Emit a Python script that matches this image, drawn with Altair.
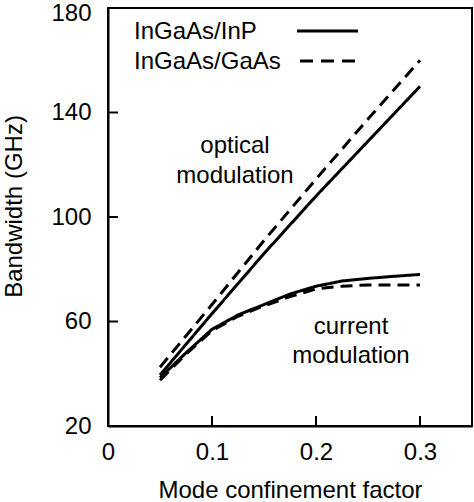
import altair as alt
import pandas as pd

# ---- data ----
gamma = [0.05, 0.10, 0.15, 0.20, 0.25, 0.30]
opt_inp = [39.5, 63, 86, 108, 129, 150]
opt_gaas = [42.5, 66.5, 91, 114.5, 137.5, 160]

gamma_c = [0.05, 0.075, 0.10, 0.125, 0.15, 0.175, 0.20, 0.225, 0.25, 0.275, 0.30]
cur_inp = [38.5, 48, 57, 62.5, 66.5, 70.5, 73.5, 75.5, 76.5, 77.3, 78]
cur_gaas = [37.5, 47.5, 56.5, 62, 66, 69.5, 72.5, 73.5, 74, 74, 74]

x_ticks = [0, 0.1, 0.2, 0.3]
y_ticks = [20, 60, 100, 140, 180]
inner_x_ticks = [0.1, 0.2, 0.3]
inner_y_ticks = [60, 100, 140]

legend_labels = ["InGaAs/InP", "InGaAs/GaAs"]

rows = []
for g, v in zip(gamma, opt_inp):
    rows.append({"x": g, "y": v, "mat": "InGaAs/InP", "mode": "optical"})
for g, v in zip(gamma, opt_gaas):
    rows.append({"x": g, "y": v, "mat": "InGaAs/GaAs", "mode": "optical"})
for g, v in zip(gamma_c, cur_inp):
    rows.append({"x": g, "y": v, "mat": "InGaAs/InP", "mode": "current"})
for g, v in zip(gamma_c, cur_gaas):
    rows.append({"x": g, "y": v, "mat": "InGaAs/GaAs", "mode": "current"})
df = pd.DataFrame(rows)

FONT = "Liberation Sans"
FS = 24

xscale = alt.Scale(domain=[0, 0.35], nice=False, zero=False)
yscale = alt.Scale(domain=[20, 180], nice=False, zero=False)

xaxis = alt.Axis(values=x_ticks, ticks=False, grid=False, title="Mode confinement factor",
                 labelFontSize=FS, titleFontSize=FS, labelFont=FONT, titleFont=FONT,
                 labelColor="black", titleColor="black", titleFontWeight="normal",
                 labelPadding=14, titlePadding=14, domainColor="black", domainWidth=2,
                 labelFlush=False,
                 labelExpr="datum.value == 0 ? '0' : format(datum.value, '.1f')")
yaxis = alt.Axis(values=y_ticks, ticks=False, grid=False, title="Bandwidth (GHz)",
                 labelFontSize=FS, titleFontSize=FS, labelFont=FONT, titleFont=FONT,
                 labelColor="black", titleColor="black", titleFontWeight="normal",
                 labelPadding=17, domainColor="black", domainWidth=2,
                 labelFlush=False,
                 labelOffset={"condition": {"test": "datum.value == 180", "value": 5}, "value": 0},
                 titleX=-94, titleY=198, titleBaseline="middle", titleAlign="center", titleAngle=-90)

lines = alt.Chart(df).mark_line(color="black", strokeWidth=3).encode(
    x=alt.X("x:Q", scale=xscale, axis=xaxis),
    y=alt.Y("y:Q", scale=yscale, axis=yaxis),
    strokeDash=alt.StrokeDash("mat:N", scale=alt.Scale(domain=legend_labels, range=[[1, 0], [12, 7]]), legend=None),
    detail="mode:N",
    order="x:Q",
)

xt = alt.Chart(pd.DataFrame({"t": inner_x_ticks})).mark_rule(color="black", strokeWidth=2).encode(
    x=alt.X("t:Q", scale=xscale), y=alt.value(418), y2=alt.value(408))
yt = alt.Chart(pd.DataFrame({"t": inner_y_ticks})).mark_rule(color="black", strokeWidth=2).encode(
    y=alt.Y("t:Q", scale=yscale), x=alt.value(0), x2=alt.value(10))

leg_text = alt.Chart(pd.DataFrame({"label": legend_labels, "py": [24, 54]})).mark_text(
    align="left", baseline="middle", font=FONT, fontSize=FS, color="black").encode(
    x=alt.value(26), y=alt.Y("py:Q", scale=None), text="label:N")
leg_solid = alt.Chart(pd.DataFrame({"a": [0]})).mark_rule(color="black", strokeWidth=3).encode(
    x=alt.value(189), x2=alt.value(250), y=alt.value(23))
leg_dash = alt.Chart(pd.DataFrame({"a": [0]})).mark_rule(color="black", strokeWidth=3, strokeDash=[13, 8]).encode(
    x=alt.value(192), x2=alt.value(250), y=alt.value(53))

ann = pd.DataFrame({
    "t": ["optical", "modulation", "current", "modulation"],
    "px": [127, 127, 243, 243],
    "py": [138, 168, 319, 348],
})
ann_text = alt.Chart(ann).mark_text(align="center", baseline="middle", font=FONT, fontSize=FS, color="black").encode(
    x=alt.X("px:Q", scale=None), y=alt.Y("py:Q", scale=None), text="t:N")

chart = alt.layer(lines, xt, yt, leg_text, leg_solid, leg_dash, ann_text).properties(
    width=364, height=418,
    autosize=alt.AutoSizeParams(type="none"),
    padding={"left": 108, "top": 8, "right": 2, "bottom": 76},
    background="white",
).configure_view(stroke="black", strokeWidth=2)

chart.save("out.html", embed_options={"renderer": "svg", "actions": False})
